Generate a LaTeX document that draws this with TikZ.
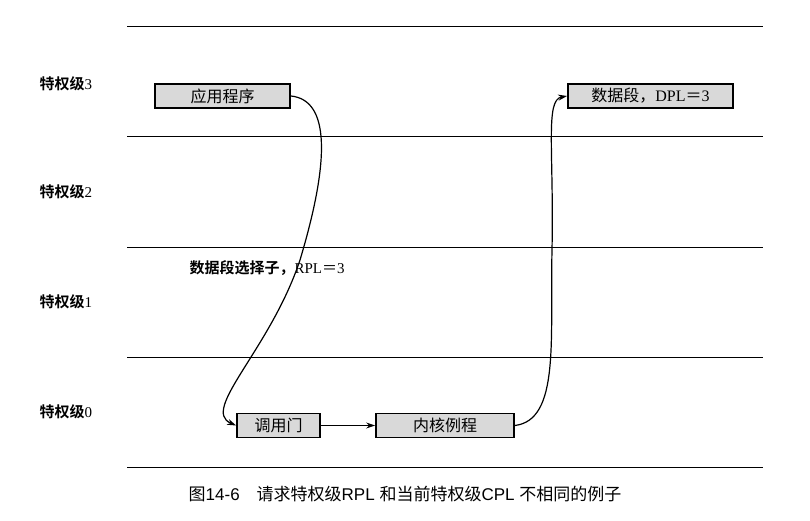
\documentclass[tikz,border=0pt]{standalone}
\usepackage{fontspec}
\setmainfont{Liberation Serif}
\setsansfont{Liberation Sans}
\newfontfamily\cjk{Noto Sans CJK SC}[BoldFont={Noto Sans CJK SC Bold}]
\usetikzlibrary{arrows.meta}
\begin{document}
\begin{tikzpicture}[x=1pt,y=-1pt,
  lvl/.style={line width=1pt},
  bx/.style={draw,line width=1.8pt,fill=black!15,minimum height=24pt,inner sep=0pt,font=\cjk\fontsize{16}{18}\selectfont},
  lab/.style={anchor=west,font=\fontsize{15}{17}\selectfont},
  arr/.style={line width=1.2pt,-{Stealth[length=9pt,width=6pt]}}]
\useasboundingbox (0,0) rectangle (810,521);
\foreach \y/\n in {27/a,137/b,247/c,357/d,467/e}{
  \draw[lvl] (127,\y) -- (763,\y);}
\node[lab] (l3) at (36,84) {{\cjk\bfseries 特权级}3};
\node[lab] (l2) at (36,192) {{\cjk\bfseries 特权级}2};
\node[lab] (l1) at (36,302) {{\cjk\bfseries 特权级}1};
\node[lab] (l0) at (36,412) {{\cjk\bfseries 特权级}0};
\node[bx,minimum width=135pt] (app) at (222.5,96) {应用程序};
\node[bx,minimum width=165pt] (ds) at (650.5,96) {数据段，{\rmfamily DPL}＝{\rmfamily 3}};
\node[bx,minimum width=83pt] (gate) at (278.5,425.5) {调用门};
\node[bx,minimum width=138pt] (kern) at (445,425.5) {内核例程};
\node[lab] (sel) at (186,268) {{\cjk\bfseries 数据段选择子，}RPL{\cjk ＝}3};
\draw[arr] (app.east) .. controls (330,100) and (330,160) .. (300,260)
  .. controls (270,350) and (200,410) .. (gate.west);
\draw[arr] (kern.east) .. controls (560,420) and (550,340) .. (552,250)
  .. controls (554,150) and (545,100) .. (ds.west);
\draw[arr] (gate.east) -- (kern.west);
\node[font=\sffamily\fontsize{17}{19}\selectfont] (cap) at (405,494) {{\cjk 图}14-6\quad{\cjk 请求特权级}RPL {\cjk 和当前特权级}CPL {\cjk 不相同的例子}};
\end{tikzpicture}
\end{document}
